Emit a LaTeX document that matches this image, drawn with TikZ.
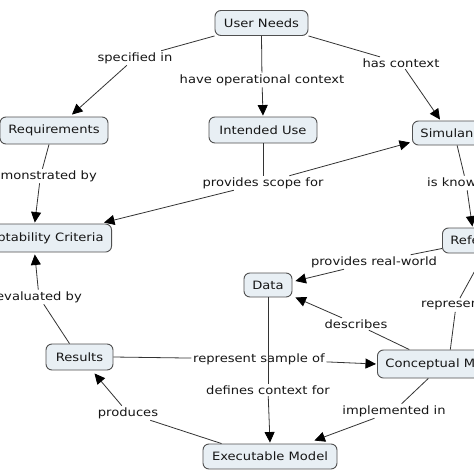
\documentclass[tikz,border=0pt]{standalone}
\usepackage{fontspec}
\setmainfont{DejaVu Sans}[FakeStretch=1.14]
\usetikzlibrary{arrows.meta,calc}
\definecolor{boxfill}{HTML}{E8EFF4}
\definecolor{boxline}{HTML}{505050}
\definecolor{linec}{HTML}{333333}
\definecolor{textc}{HTML}{161616}
\begin{document}
\begin{tikzpicture}[x=1pt,y=-1pt,
  every node/.style={font=\fontsize{11.5pt}{13pt}\selectfont, text=textc},
  concept/.style={draw=boxline, fill=boxfill, line width=0.9pt, rounded corners=6pt,
    minimum height=25pt, inner xsep=8pt, inner ysep=2pt},
  lab/.style={inner sep=1.5pt},
  conn/.style={draw=linec, line width=0.8pt},
  arr/.style={conn, -{Triangle[length=10.5pt,width=10pt,color=black]}}]
\useasboundingbox (0,0) rectangle (474,474);
\fill[white] (0,0) rectangle (474,474);
\clip (0,0) rectangle (474,474);
% concepts
\node[concept, minimum width=93pt] (UN) at (261.5,23) {User Needs};
\node[concept, minimum width=108pt, minimum height=26pt] (IU) at (263,130) {Intended Use};
\node[concept, minimum width=108pt, minimum height=27pt] (Req) at (54,130.5) {Requirements};
\node[concept, anchor=east, minimum height=28pt] (AC) at (112,238) {Acceptability Criteria};
\node[concept, anchor=west, minimum height=24pt] (Sim) at (412,133) {Simuland};
\node[concept, anchor=west] (Ref) at (442,240.5) {Referent};
\node[concept, anchor=west, minimum height=28pt] (CM) at (377,364) {Conceptual Model};
\node[concept, minimum width=48pt, minimum height=24pt] (Data) at (268,285) {Data};
\node[concept, minimum width=67pt, minimum height=26pt] (Res) at (79.5,357) {Results};
\node[concept, minimum width=134pt] (EM) at (270,456.5) {Executable Model};
% link labels
\node[lab] (spec) at (135,58) {specified in};
\node[lab] (haveop) at (262,80) {have operational context};
\node[lab] (hasctx) at (401,63) {has context};
\node[lab, anchor=east] (demo) at (98.5,176) {demonstrated by};
\node[lab] (scope) at (263,183) {provides scope for};
\node[lab, anchor=west] (known) at (425.5,183) {is known by};
\node[lab, anchor=east] (evalby) at (83.5,297) {evaluated by};
\node[lab] (sample) at (259,359) {represent sample of};
\node[lab] (defctx) at (268,390) {defines context for};
\node[lab] (produces) at (128,413) {produces};
\node[lab] (prw) at (374,262) {provides real-world};
\node[lab] (describes) at (356,324) {describes};
\node[lab, anchor=west] (represents) at (419.5,305) {represents};
\node[lab] (impl) at (394,411) {implemented in};
% connectors
\draw[conn] (UN.south west) -- (spec);
\draw[arr] (spec) -- ([xshift=18pt,yshift=2pt]Req.north);
\draw[conn] (UN.south) -- (haveop);
\draw[arr] (haveop) -- ([yshift=1pt]IU.north);
\draw[conn] (UN.south east) -- (hasctx);
\draw[arr] (hasctx) -- ([xshift=28pt,yshift=1pt]Sim.north west);
\draw[conn] ([xshift=-5pt]Req.south) -- (demo);
\draw[arr] (demo) -- ([yshift=1pt]AC.north);
\draw[conn] (IU.south) -- (scope);
\draw[arr] (scope) -- ([xshift=-2pt,yshift=3pt]Sim.south west);
\draw[arr] (scope) -- ([xshift=-8pt,yshift=1pt]AC.north east);
\draw[conn] ([xshift=6pt]Sim.south) -- (known);
\draw[arr] (known) -- ([xshift=-6pt,yshift=1pt]Ref.north);
\draw[conn] ([yshift=-8pt]Ref.west) -- (prw);
\draw[arr] (prw) -- ([xshift=3pt,yshift=4pt]Data.east);
\draw[conn] ([xshift=-35pt]CM.north) -- (describes);
\draw[arr] (describes) -- ([xshift=3pt]Data.south east);
\draw[conn] ([xshift=6pt]CM.north) -- (represents);
\draw[arr] (represents) -- ([xshift=6pt]Ref.south);
\draw[conn] ([xshift=-10pt]Res.north) -- (evalby);
\draw[arr] (evalby) -- ([yshift=-2pt]AC.south);
\draw[conn] (Res.east) -- (sample);
\draw[arr] (sample) -- ([xshift=-1pt]CM.west);
\draw[conn] (Data.south) -- (defctx);
\draw[arr] (defctx) -- ([yshift=1pt]EM.north);
\draw[conn] ([xshift=19pt]EM.north west) -- (produces);
\draw[arr] (produces) -- ([xshift=15pt,yshift=-3pt]Res.south);
\draw[conn] ([xshift=-16pt]CM.south) -- (impl);
\draw[arr] (impl) -- ([xshift=-23pt,yshift=3pt]EM.north east);
\end{tikzpicture}
\end{document}
